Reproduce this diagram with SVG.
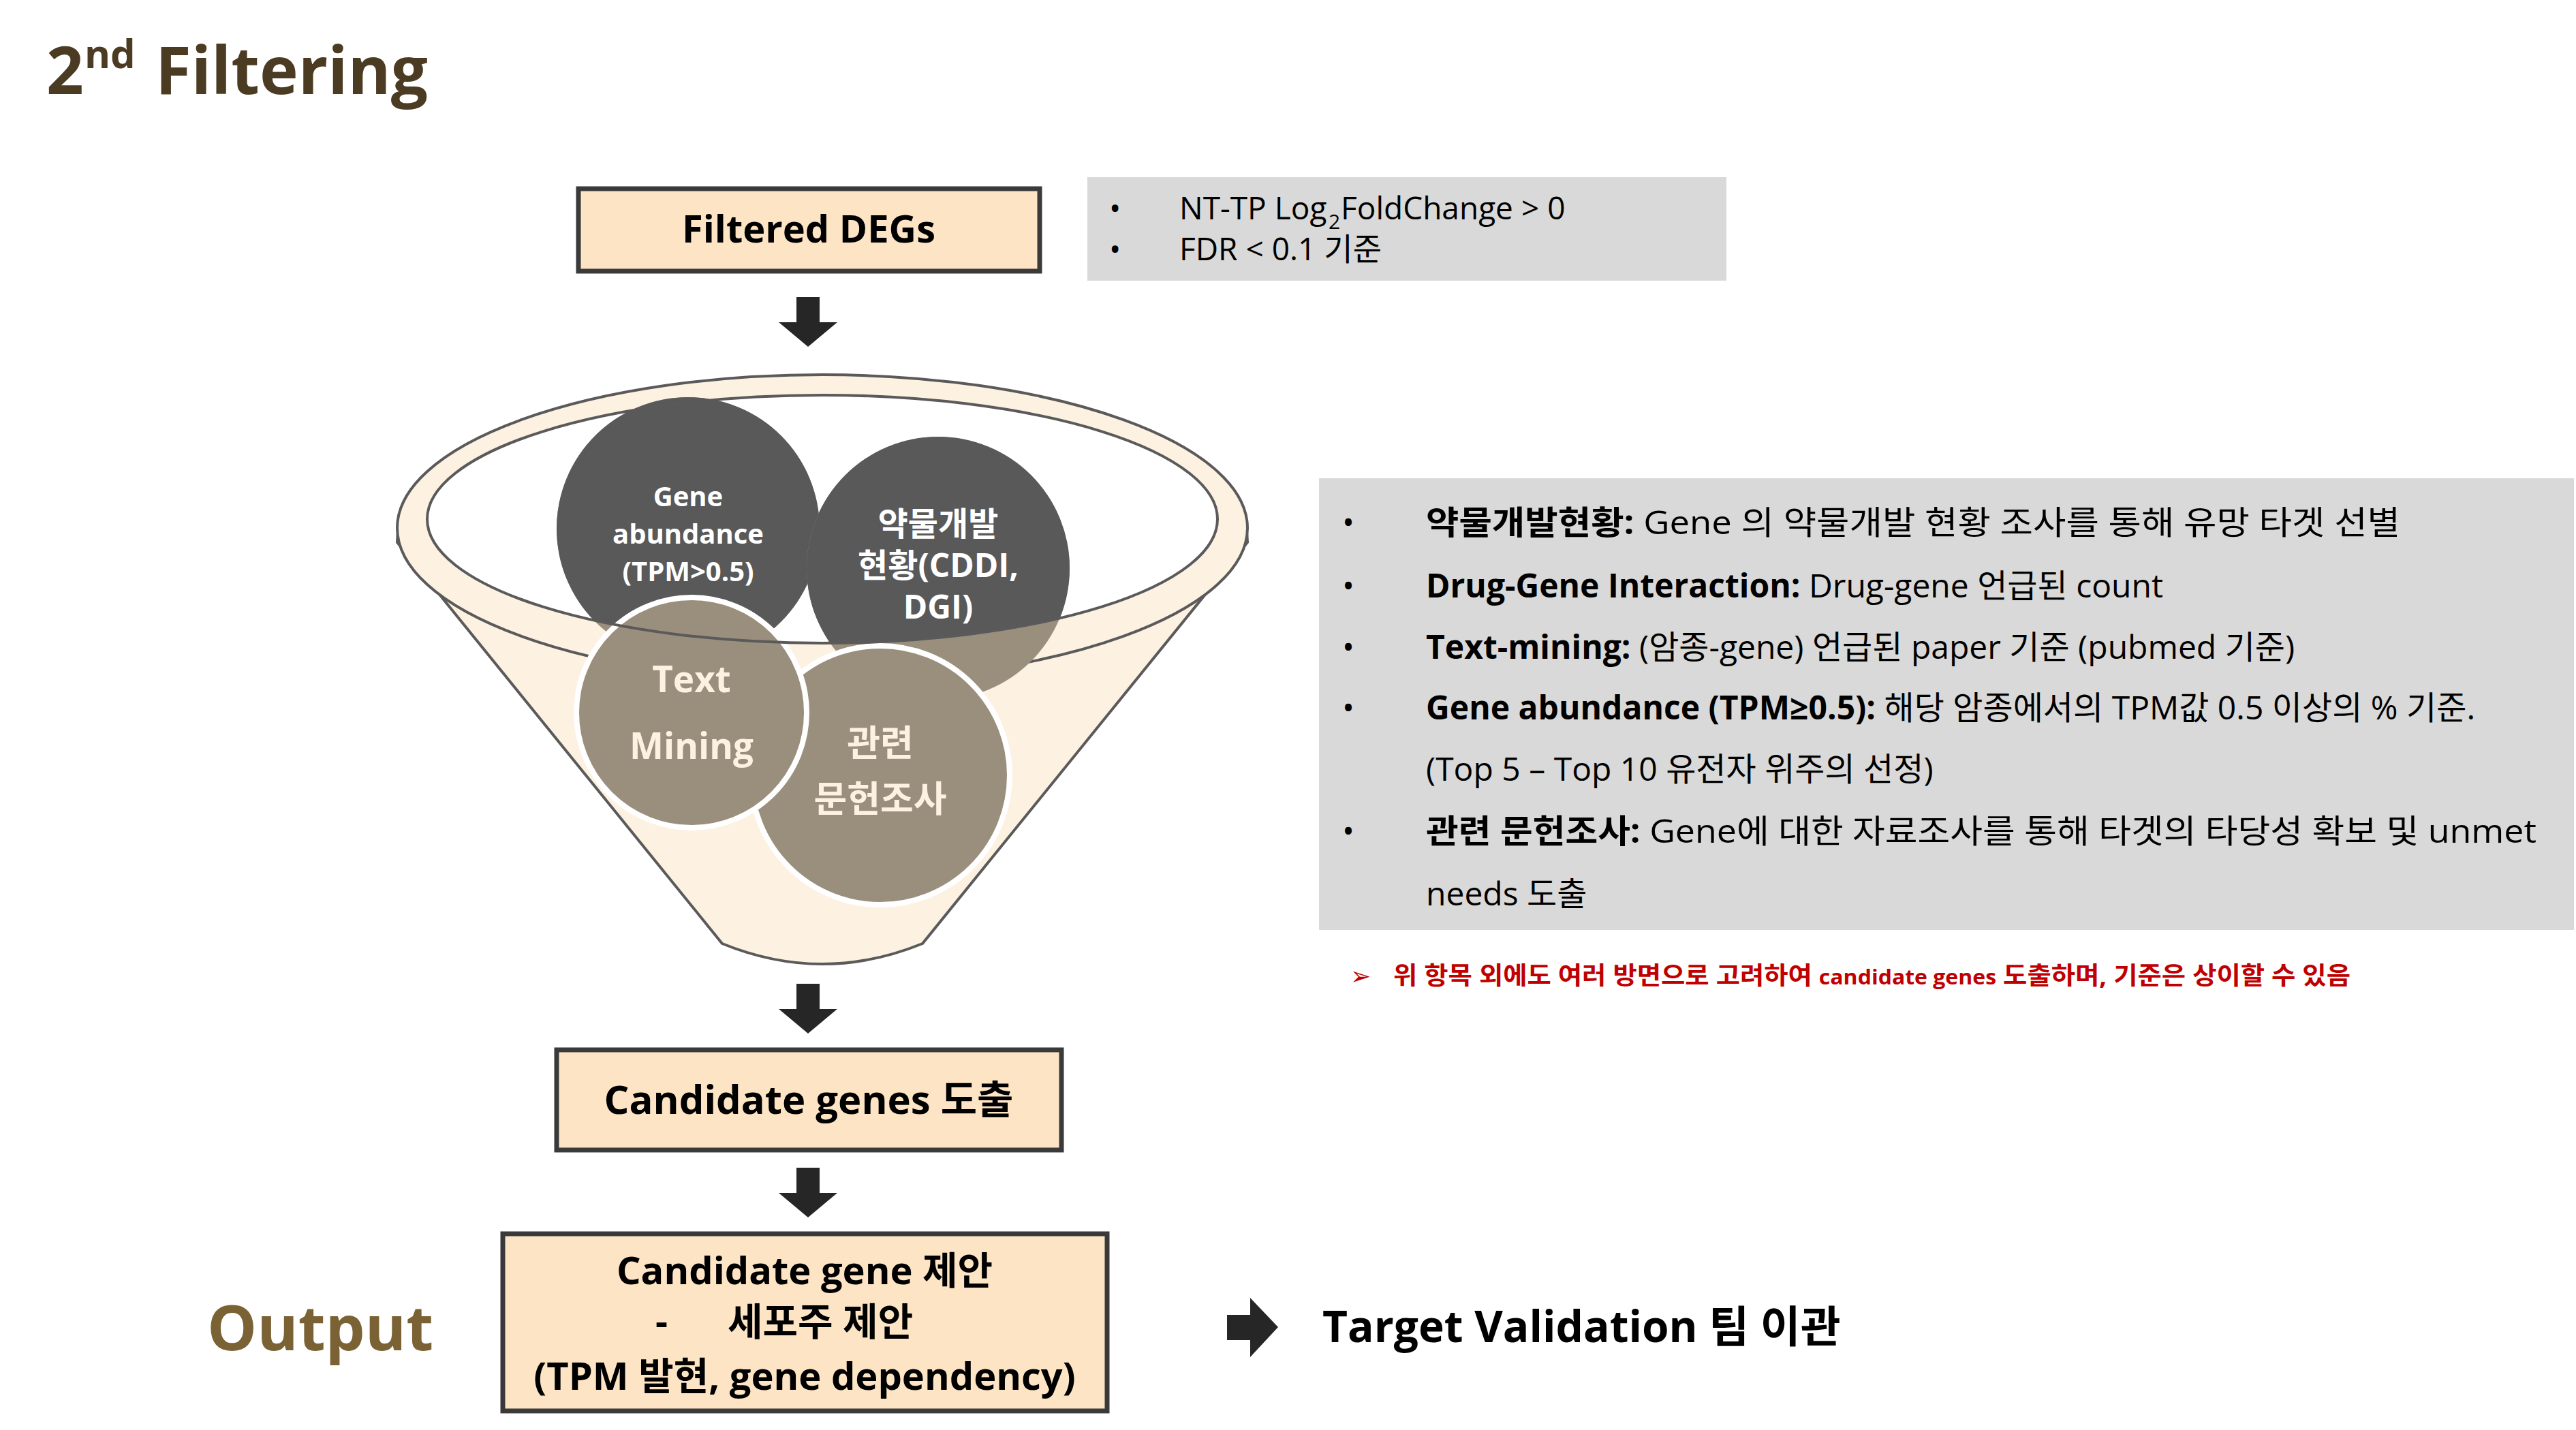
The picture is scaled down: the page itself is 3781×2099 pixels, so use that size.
<svg xmlns="http://www.w3.org/2000/svg" width="3781" height="2099" viewBox="0 0 3781 2099">
<style>
text{font-family:"Open Sans","Noto Sans CJK KR",sans-serif;}
.b{font-weight:bold}
.box{fill:#fde4c4;stroke:#3a3a3a;stroke-width:7}
.arr{fill:#262626}
.w{fill:#fff;font-weight:bold;text-anchor:middle}
.c{fill:#fdf1e2;font-weight:bold;text-anchor:middle}
.t{font-size:46px;fill:#000}
.r{font-size:48px;fill:#000}
</style>
<defs>
<clipPath id="up">
<ellipse cx="1207" cy="762" rx="580" ry="182"/>
<rect x="0" y="0" width="3781" height="762"/>
</clipPath>
</defs>
<rect width="3781" height="2099" fill="#fff"/>
<text x="68" y="138" font-size="96" class="b" fill="#4a3b22">2</text>
<text x="124" y="100" font-size="58" class="b" fill="#4a3b22">nd</text>
<text x="228" y="138" font-size="96" class="b" fill="#4a3b22">Filtering</text>

<g id="note1">
<rect x="1596" y="260" width="938" height="152" fill="#d9d9d9"/>
<text x="1628" y="322" class="t">•</text><text x="1731" y="322" class="t">NT-TP Log</text>
<text x="1950" y="336" font-size="30">2</text>
<text x="1968" y="322" class="t">FoldChange &gt; 0</text>
<text x="1628" y="382" class="t">•</text><text x="1731" y="382" class="t">FDR &lt; 0.1 기준</text>
</g>

<g id="n-filtered">
<rect x="849" y="277" width="677" height="121" class="box"/>
<text x="1187" y="356" font-size="56" class="b" text-anchor="middle">Filtered DEGs</text>
</g>

<g id="connectors">
<path class="arr" d="M1169 436h34v37h26l-43 36l-43-36h26z"/>
<path class="arr" d="M1169 1444h34v37h26l-43 36l-43-36h26z"/>
<path class="arr" d="M1169 1714h34v37h26l-43 36l-43-36h26z"/>
<path class="arr" d="M1801 1930h34v-25l41 43l-41 44v-25h-34z"/>
</g>

<g id="funnel">
<path d="M583 796 L1060 1385 Q1207 1445 1354 1385 L1831 796 A624 225 0 0 0 583 796 Z" fill="#fdf1e2" stroke="#5a5a5a" stroke-width="4"/>
<ellipse cx="1207" cy="775" rx="624" ry="225" fill="#fdf1e2" stroke="#5a5a5a" stroke-width="4"/>
<ellipse cx="1207" cy="762" rx="580" ry="182" fill="#fff"/>
</g>

<g id="n-gene">
<circle cx="1010" cy="776" r="193" fill="#9a8f7d"/>
<circle cx="1010" cy="776" r="193" fill="#595959" clip-path="url(#up)"/>
</g>
<g id="n-drug">
<circle cx="1377" cy="834" r="193" fill="#9a8f7d"/>
<circle cx="1377" cy="834" r="193" fill="#595959" clip-path="url(#up)"/>
</g>
<g id="n-lit">
<circle cx="1292" cy="1138" r="190" fill="#9a8f7d" stroke="#fff" stroke-width="8"/>
</g>
<g id="n-text">
<circle cx="1015" cy="1046" r="169" fill="#9a8f7d" stroke="#fff" stroke-width="8"/>
</g>
<ellipse cx="1207" cy="762" rx="580" ry="182" fill="none" stroke="#5a5a5a" stroke-width="4"/>
<text class="w" font-size="40"><tspan x="1010" y="743">Gene</tspan><tspan x="1010" y="798">abundance</tspan><tspan x="1010" y="853">(TPM&gt;0.5)</tspan></text>
<text class="w" font-size="48"><tspan x="1377" y="786">약물개발</tspan><tspan x="1377" y="847">현황(CDDI,</tspan><tspan x="1377" y="908">DGI)</tspan></text>
<text class="c" font-size="53"><tspan x="1015" y="1016">Text</tspan><tspan x="1015" y="1114">Mining</tspan></text>
<text class="c" font-size="53"><tspan x="1292" y="1110">관련</tspan><tspan x="1292" y="1192">문헌조사</tspan></text>

<g id="n-candidate">
<rect x="817" y="1541" width="741" height="147" class="box"/>
<text x="1187" y="1635" font-size="58" class="b" text-anchor="middle">Candidate genes 도출</text>
</g>

<g id="n-output">
<rect x="738" y="1811" width="887" height="260" class="box"/>
<text font-size="56" class="b" text-anchor="middle"><tspan x="1181" y="1885">Candidate gene 제안</tspan></text>
<text x="962" y="1960" font-size="56" class="b">-</text>
<text x="1068" y="1960" font-size="56" class="b">세포주 제안</text>
<text x="1181" y="2040" font-size="56" class="b" text-anchor="middle">(TPM 발현, gene dependency)</text>
</g>
<text x="304" y="1982" font-size="92" class="b" fill="#7a6234">Output</text>
<g id="n-target">
<text x="1941" y="1970" font-size="64" class="b">Target Validation 팀 이관</text>
</g>

<g id="note2">
<rect x="1936" y="702" width="1842" height="663" fill="#d9d9d9"/>
<g class="r">
<text x="1970" y="784">•</text><text x="2093" y="784" textLength="1430" lengthAdjust="spacingAndGlyphs"><tspan class="b">약물개발현황:</tspan> Gene 의 약물개발 현황 조사를 통해 유망 타겟 선별</text>
<text x="1970" y="877">•</text><text x="2093" y="877"><tspan class="b">Drug-Gene Interaction:</tspan> Drug-gene 언급된 count</text>
<text x="1970" y="967">•</text><text x="2093" y="967"><tspan class="b">Text-mining:</tspan> (암종-gene) 언급된 paper 기준 (pubmed 기준)</text>
<text x="1970" y="1056">•</text><text x="2093" y="1056" textLength="1540" lengthAdjust="spacingAndGlyphs"><tspan class="b">Gene abundance (TPM≥0.5):</tspan> 해당 암종에서의 TPM값 0.5 이상의 % 기준.</text>
<text x="2093" y="1146">(Top 5 – Top 10 유전자 위주의 선정)</text>
<text x="1970" y="1237">•</text><text x="2093" y="1237" textLength="1630" lengthAdjust="spacingAndGlyphs"><tspan class="b">관련 문헌조사:</tspan> Gene에 대한 자료조사를 통해 타겟의 타당성 확보 및 unmet</text>
<text x="2093" y="1329">needs 도출</text>
</g>
</g>
<g id="note3">
<text x="1982" y="1445" font-size="36" fill="#c00000">➢</text>
<text x="2045" y="1445" font-size="36" class="b" fill="#c00000" textLength="1405" lengthAdjust="spacingAndGlyphs">위 항목 외에도 여러 방면으로 고려하여 <tspan font-size="30">candidate genes</tspan> 도출하며, 기준은 상이할 수 있음</text>
</g>
</svg>
